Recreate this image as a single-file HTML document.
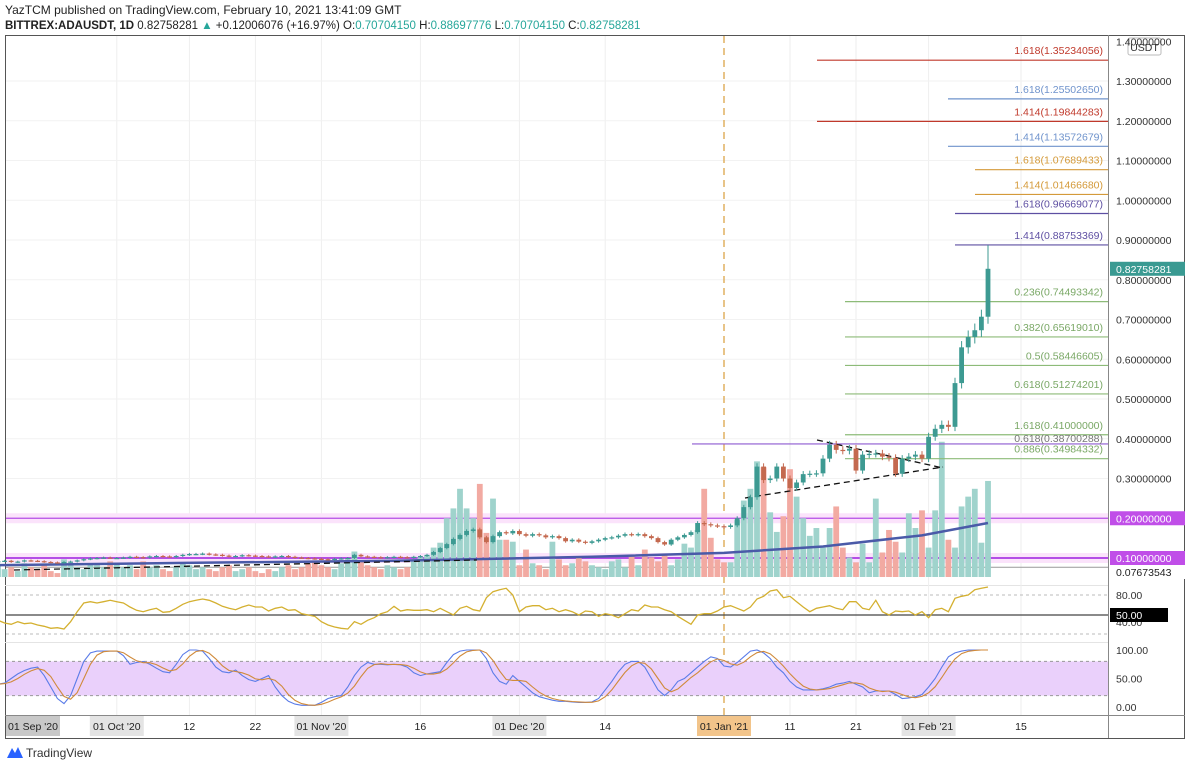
<!DOCTYPE html>
<html><head><meta charset="utf-8">
<style>
html,body{margin:0;padding:0;background:#fff;}
body{width:1185px;height:768px;overflow:hidden;font-family:"Liberation Sans",sans-serif;}
svg text{font-family:"Liberation Sans",sans-serif;}
</style></head>
<body>
<svg id="chart" width="1185" height="768" viewBox="0 0 1185 768" xmlns="http://www.w3.org/2000/svg">
<text x="5" y="14" font-size="12" fill="#222">YazTCM published on TradingView.com, February 10, 2021 13:41:09 GMT</text>
<text x="5" y="29" font-size="11.5" fill="#222"><tspan font-weight="bold">BITTREX:ADAUSDT, 1D</tspan> 0.82758281 <tspan fill="#26a69a">▲</tspan> +0.12006076 (+16.97%) O:<tspan fill="#26a69a">0.70704150</tspan> H:<tspan fill="#26a69a">0.88697776</tspan> L:<tspan fill="#26a69a">0.70704150</tspan> C:<tspan fill="#26a69a">0.82758281</tspan></text>
<rect x="5.5" y="35.5" width="1179" height="703" fill="none" stroke="#555" stroke-width="1"/>
<line x1="1108.5" y1="35" x2="1108.5" y2="738" stroke="#888" stroke-width="1"/>
<line x1="5" y1="715.5" x2="1185" y2="715.5" stroke="#888"/>
<line x1="5" y1="585.5" x2="1108" y2="585.5" stroke="#e4e4e4"/>
<line x1="5" y1="642.5" x2="1108" y2="642.5" stroke="#e4e4e4"/>
<g id="grid"></g>
<g id="main"></g>
<g id="rsi"></g>
<g id="stoch"></g>
<g id="axes"></g>
<g>
<path d="M7 758 L12 748 L15 753 L18 747 L23 758 Z" fill="#2962ff"/>
<text x="26" y="757" font-size="12" fill="#333">TradingView</text>
</g>
</svg>
<script>
// ---- data (day index 0 = 13 Sep 2020, one candle per day) ----
const closes = [0.092,0.093,0.090,0.091,0.094,0.093,0.092,0.090,0.089,0.088,0.090,0.091,0.094,0.097,0.099,0.100,0.101,0.100,
0.100,0.101,0.103,0.102,0.101,0.104,0.105,0.104,0.103,0.105,0.108,0.110,0.110,0.111,0.109,0.108,0.106,0.104,0.105,0.107,0.106,0.105,0.104,0.103,0.104,0.105,0.103,0.101,0.100,0.099,0.098,
0.097,0.096,0.098,0.099,0.100,0.108,0.104,0.103,0.102,0.101,0.102,0.103,0.102,0.101,0.103,
0.105,0.108,0.115,0.125,0.135,0.148,0.158,0.168,0.172,0.152,0.140,0.155,0.165,0.162,0.168,
0.160,0.156,0.160,0.157,0.152,0.155,0.150,0.142,0.146,0.141,0.138,0.142,0.146,0.150,0.152,0.156,0.160,0.158,0.160,0.155,0.150,0.140,0.134,0.146,0.152,0.158,
0.165,0.188,0.185,0.182,0.180,0.178,0.182,0.200,0.228,0.253,0.330,0.296,0.300,0.330,0.300,0.276,0.290,0.311,0.312,0.313,0.350,0.385,0.372,0.370,0.375,0.320,0.360,0.362,0.363,0.355,0.352,0.312,0.350,0.355,0.360,0.350,0.405,0.425,0.435,0.430,0.540,0.630,0.656,0.673,0.707,0.8276];
const firstOpen = 0.091;
const lastHigh = 0.88698;
const volumes = [12,8,10,6,14,10,8,12,6,4,18,12,10,8,14,12,10,16,
14,10,12,8,16,10,12,8,6,10,14,12,8,10,8,6,10,12,6,8,10,6,4,8,6,10,12,8,10,14,16,
12,10,8,14,18,26,16,12,10,8,12,10,8,10,16,
20,22,30,35,60,70,90,70,60,95,45,80,38,38,36,
12,28,14,12,8,36,18,12,14,20,16,12,10,8,16,18,10,22,12,28,20,16,24,12,18,34,
30,48,90,40,18,15,15,58,78,90,118,112,66,46,62,110,82,60,42,50,30,50,72,30,20,15,34,15,80,25,48,36,25,65,50,68,30,68,138,38,30,72,82,90,35,98];
const rsiVals = [42,38,36,40,37,38,35,33,30,31,29,40,55,68,70,68,70,72,
70,68,62,57,55,58,60,54,55,60,66,70,72,74,72,68,63,60,58,62,65,62,62,56,60,62,57,58,52,50,48,
40,35,32,30,29,40,36,42,46,52,55,63,56,58,57,
57,58,55,60,55,50,60,63,58,56,76,85,88,90,80,
55,62,64,64,58,60,55,58,55,50,56,55,48,52,50,46,52,58,56,65,62,62,58,55,48,42,
36,50,52,52,56,62,64,60,56,62,74,78,86,88,76,78,70,62,55,60,62,64,60,58,70,70,60,58,72,55,50,56,55,56,50,55,46,58,60,55,75,78,80,88,90,92];
const stochK = [40,42,50,58,64,68,70,55,35,15,6,20,50,80,95,98,98,98,98,90,
75,78,80,75,68,62,60,75,92,100,100,98,85,70,62,60,65,55,48,45,
50,55,35,20,10,5,3,3,3,8,15,18,20,35,55,70,78,75,75,74,
75,74,70,60,55,58,60,62,78,92,98,100,100,100,85,60,45,40,55,45,
35,25,18,15,12,10,10,9,8,8,9,15,30,45,62,75,80,80,70,50,
30,20,30,45,50,60,70,80,88,85,72,70,78,88,98,100,95,85,70,60,
45,35,30,30,30,32,35,40,42,45,40,35,25,28,28,28,22,15,16,18,
22,35,50,70,88,95,98,100,100,100,100];
const maDays = [0,30,60,90,110,125,140,150];
const maVals = [0.082,0.088,0.093,0.103,0.113,0.129,0.157,0.188];
const priceTicks = [1.3,1.2,1.1,1.0,0.9,0.8,0.7,0.6,0.5,0.4,0.3];
const fibLevels = [1.35234056,1.25502650,1.19844283,1.13572679,1.07689433,1.01466680,0.96669077,0.88753369,0.74493342,0.65619010,0.58446605,0.51274201,0.41000000,0.34984332];
const fibRatios = ["1.618","1.618","1.414","1.414","1.618","1.414","1.618","1.414","0.236","0.382","0.5","0.618","1.618","0.886"];
const dateLabels = ["01 Sep '20","01 Oct '20","12","22","01 Nov '20","16","01 Dec '20","14","01 Jan '21","11","21","01 Feb '21","15"];
const dateDays = [-12,18,29,39,49,64,79,92,110,120,130,141,155];

// ---- scales ----
const NS='http://www.w3.org/2000/svg';
const xDay = d => 724 + (d-110)*6.6;
const yP = p => 558 - (p-0.1)*397.5;
const yV = v => 577 - v*0.98;
const yR = v => 615 - (v-50)*0.667;
const yS = v => 707 - v*0.57;
function el(tag, attrs, parent){const e=document.createElementNS(NS,tag);for(const k in attrs)e.setAttribute(k,attrs[k]);parent.appendChild(e);return e;}
const grid=document.getElementById('grid'), main=document.getElementById('main'), rsiG=document.getElementById('rsi'), stG=document.getElementById('stoch'), ax=document.getElementById('axes');

// grid
dateDays.forEach((d,i)=>{ if(i===0||d===110) return; const g=el('line',{x1:xDay(d),y1:36,x2:xDay(d),y2:715,stroke:'#eeeeee'},grid);

});
priceTicks.forEach(p=>{const g=el('line',{x1:6,y1:yP(p),x2:1108,y2:yP(p),stroke:'#f2f2f2'},grid);

});
const vline=el('line',{x1:724,y1:36,x2:724,y2:715,stroke:'#e0b060','stroke-width':1.5,'stroke-dasharray':'7,5'},grid);



// bands and horizontal lines
[[0.2,'#b44ee6'],[0.1,'#b44ee6']].forEach(([p,c])=>{
 const b=el('rect',{x:6,y:yP(p)-5,width:1102,height:10,fill:'#fbe3fb'},main);
 
 
 const l=el('line',{x1:6,y1:yP(p),x2:1108,y2:yP(p),stroke:c,'stroke-width':p===0.1?2:1.3},main);
 
 
});
const gl=el('line',{x1:6,y1:yP(0.0767),x2:1108,y2:yP(0.0767),stroke:'#999'},main);



// volumes
const vg=el('g',{},main);


closes.forEach((c,i)=>{const o=i?closes[i-1]:firstOpen;const up=c>=o;
 const r=el('rect',{x:xDay(i)-2.9,y:yV(volumes[i]),width:5.8,height:volumes[i]*0.98,fill:up?'#9fd3cc':'#f2aaa2'},vg);
 
 });

// MA
let mad='';maDays.forEach((d,i)=>{mad+=(i?'L':'M')+xDay(d)+' '+yP(maVals[i]);});
const ma=el('path',{d:mad,fill:'none',stroke:'#4a5aa8','stroke-width':2.5},main);



// resistance line
const rl=el('line',{x1:692,y1:yP(0.387),x2:1108,y2:yP(0.387),stroke:'#8e5ad0','stroke-width':1.2},main);



// fib lines
const fibStart=[817,948,817,948,975,975,955,955,845,845,845,845,845,845];
const fibColor=['#c0392b','#6f93cc','#c0392b','#6f93cc','#d49a3a','#d49a3a','#5e4fa2','#5e4fa2','#8dbb78','#8dbb78','#8dbb78','#8dbb78','#8dbb78','#8dbb78'];
fibLevels.forEach((p,i)=>{
 const l=el('line',{x1:fibStart[i],y1:yP(p),x2:1108,y2:yP(p),stroke:fibColor[i],'stroke-width':1.2},main);
 
 
 const t=el('text',{x:1103,y:yP(p)-6,'text-anchor':'end','font-size':10.5,fill:fibColor[i]==='#8dbb78'?'#7aa866':fibColor[i]},main);
 t.textContent=fibRatios[i]+'('+p.toFixed(8)+')';
 
 
});
const t2=el('text',{x:1103,y:yP(0.41)+7,'text-anchor':'end','font-size':10.5,fill:'#777'},main);
t2.textContent='0.618(0.38700288)';



// trendlines
[[14,570,477,560],[817,440,943,468],[745,498,943,467]].forEach(a=>{
 const l=el('line',{x1:a[0],y1:a[1],x2:a[2],y2:a[3],stroke:'#111','stroke-width':1.3,'stroke-dasharray':'6,4'},main);
 
 });

// candles
const cg=el('g',{},main);


closes.forEach((c,i)=>{const o=i?closes[i-1]:firstOpen;const up=c>=o;const col=up?'#3d9a92':'#c4694f';
 const x=xDay(i);const hi=i===closes.length-1?lastHigh:Math.max(o,c)*1.025;const lo=Math.min(o,c)*0.975;
 const w=el('line',{x1:x,y1:yP(hi),x2:x,y2:yP(lo),stroke:col,'stroke-width':1},cg);
 
 
 const top=yP(Math.max(o,c)),h=Math.max(1.2,yP(Math.min(o,c))-top);
 const b=el('rect',{x:x-2.4,y:top,width:4.8,height:h,fill:col},cg);
 
 });

// RSI
[[595,'#bbb','3,3'],[634,'#bbb','3,3']].forEach(a=>{const l=el('line',{x1:6,y1:a[0],x2:1108,y2:a[0],stroke:a[1],'stroke-dasharray':a[2]},rsiG);

});
const rm=el('line',{x1:6,y1:615,x2:1108,y2:615,stroke:'#444','stroke-width':1.3},rsiG);


let rd='';rsiVals.forEach((v,i)=>{rd+=(i?'L':'M')+xDay(i).toFixed(1)+' '+yR(v).toFixed(1);});
const rp=el('path',{d:rd,fill:'none',stroke:'#d4b030','stroke-width':1.3},rsiG);



// Stoch RSI
const sb=el('rect',{x:6,y:yS(80),width:1102,height:yS(20)-yS(80),fill:'#ead0fb'},stG);


[80,20].forEach(v=>{const l=el('line',{x1:6,y1:yS(v),x2:1108,y2:yS(v),stroke:'#999','stroke-dasharray':'3,3'},stG);

});
const stochD = stochK.map((v,i)=>{const a=stochK.slice(Math.max(0,i-2),i+1);return a.reduce((s,x)=>s+x,0)/a.length;});
let kd='',dd='';stochK.forEach((v,i)=>{kd+=(i?'L':'M')+xDay(i).toFixed(1)+' '+yS(v).toFixed(1);dd+=(i?'L':'M')+xDay(i).toFixed(1)+' '+yS(stochD[i]).toFixed(1);});
const kp=el('path',{d:kd,fill:'none',stroke:'#5b7ce8','stroke-width':1.1},stG);


const dp=el('path',{d:dd,fill:'none',stroke:'#d08a3a','stroke-width':1.1},stG);



// right axis labels
const usd=el('rect',{x:1128,y:38,width:33,height:17,rx:2,fill:'#fff',stroke:'#bbb'},ax);


const ut=el('text',{x:1144.5,y:51,'text-anchor':'middle','font-size':10.5,fill:'#333'},ax);ut.textContent='USDT';


[1.4].concat(priceTicks).forEach(p=>{const t=el('text',{x:1116,y:yP(p)+4,'font-size':10.5,fill:'#333'},ax);t.textContent=p.toFixed(8);

});
function tag(y,txt,bg,fg,name){const r=el('rect',{x:1110,y:y-7,width:34+txt.length*4.8,height:14,fill:bg},ax);


const t=el('text',{x:1116,y:y+4,'font-size':10.5,fill:fg},ax);t.textContent=txt;

}
tag(yP(0.8276),'0.82758281','#3a9a92','#fff','last-price-tag');
tag(yP(0.2),'0.20000000','#c04ee8','#fff','level-tag-020');
tag(yP(0.1),'0.10000000','#c04ee8','#fff','level-tag-010');
tag(572,'0.07673543','#fff','#222','low-tag');
[[595,'80.00'],[622,'40.00']].forEach(a=>{const t=el('text',{x:1116,y:a[0]+4,'font-size':10.5,fill:'#333'},ax);t.textContent=a[1];

});
tag(615,'50.00','#000','#fff','rsi-50-tag');
[[100,'100.00'],[50,'50.00'],[0,'0.00']].forEach(a=>{const t=el('text',{x:1116,y:yS(a[0])+4,'font-size':10.5,fill:'#333'},ax);t.textContent=a[1];

});

// time axis
dateLabels.forEach((s,i)=>{let x=xDay(dateDays[i]);if(i===0)x=33;const long=s.length>3;
 if(long){const r=el('rect',{x:x-27,y:716,width:54,height:20,fill:dateDays[i]===110?'#f2c48a':(i===0?'#c8c8c8':'#e4e4e4')},ax);
 
 }
 const t=el('text',{x:x,y:730,'text-anchor':'middle','font-size':10.5,fill:'#222'},ax);t.textContent=s;
 
 });
</script>
</body></html>
